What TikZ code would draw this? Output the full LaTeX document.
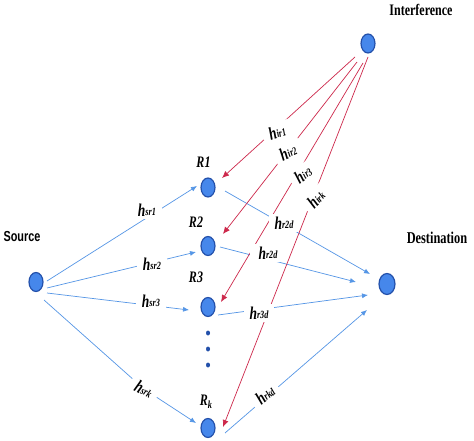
\documentclass[tikz,border=0pt]{standalone}
\usepackage{fontspec}
\setmainfont{Liberation Serif}
\newfontfamily\srcfont{Liberation Sans}
\usetikzlibrary{shapes.geometric,arrows.meta}
\definecolor{lineblue}{RGB}{85,150,230}
\definecolor{linered}{RGB}{205,40,75}
\definecolor{nodefill}{RGB}{70,135,235}
\definecolor{nodedraw}{RGB}{35,80,170}
\newcommand{\sq}[1]{\scalebox{0.75}[1]{#1}}
\newcommand{\chan}[1]{\sq{\fontsize{18}{18}\selectfont\bfseries\itshape h\raisebox{0.5pt}{\fontsize{11}{11}\selectfont #1}}}
\newcommand{\relay}[1]{\sq{\fontsize{16}{16}\selectfont\bfseries\itshape #1}}
\begin{document}
\begin{tikzpicture}[x=1pt,y=-1pt,
  nodecirc/.style={ellipse, draw=nodedraw, fill=nodefill, line width=1.2pt, minimum width=14pt, minimum height=19pt, inner sep=0pt},
  dotc/.style={ellipse, fill=nodedraw, minimum width=4pt, minimum height=5pt, inner sep=0pt},
  blueln/.style={draw=lineblue, line width=0.7pt, -{Latex[length=6pt,width=5pt]}},
  redln/.style={draw=linered, line width=0.7pt, -{Latex[length=7pt,width=6pt]}},
  chlabel/.style={fill=white, inner xsep=6pt, inner ysep=3pt},
  ttl/.style={inner sep=0pt},
]
\fill[white] (0,0) rectangle (474,441);
\useasboundingbox (0,0) rectangle (474,441);

% nodes
\node[nodecirc] (intf) at (368,43.5) {};
\node[nodecirc] (src) at (36,282) {};
\node[nodecirc, minimum width=16pt, minimum height=21pt] (dst) at (387,284) {};
\node[nodecirc] (r1) at (208,187.5) {};
\node[nodecirc] (r2) at (208,246) {};
\node[nodecirc] (r3) at (208,307) {};
\node[nodecirc] (rk) at (208,428) {};
\node[dotc] (d1) at (208,333) {};
\node[dotc] (d2) at (208,349) {};
\node[dotc] (d3) at (208,365) {};

% texts
\node[ttl] (tintf) at (421,10) {\sq{\fontsize{16}{16}\selectfont\bfseries Interference}};
\node[ttl] (tsrc) at (22,237) {\sq{\fontsize{14.5}{14.5}\selectfont\srcfont\bfseries Source}};
\node[ttl] (tdst) at (437,238) {\sq{\fontsize{16.5}{16.5}\selectfont\bfseries Destination}};
\node[ttl] (tr1) at (203.5,162) {\relay{R1}};
\node[ttl] (tr2) at (196,222) {\relay{R2}};
\node[ttl] (tr3) at (196,277) {\relay{R3}};
\node[ttl] (trk) at (206,402) {\relay{R\raisebox{-2.5pt}{\fontsize{11}{11}\selectfont k}}};

% label coordinate for the bent source-Rk link
\coordinate (csrk) at (144,389);

% blue links source -> relays
\draw[blueln] ([shift={(11,-1)}]src.center) -- ([shift={(-11,-1.5)}]r1.center);
\draw[blueln] ([shift={(11,6)}]src.center) -- ([shift={(-12,6)}]r2.center);
\draw[blueln] ([shift={(11,11)}]src.center) -- ([shift={(-19,3)}]r3.center);
\draw[blueln] ([shift={(8,18)}]src.center) -- (csrk) -- ([shift={(-12,-5)}]rk.center);

% blue links relays -> destination
\draw[blueln] ([shift={(17,3.5)}]r1.center) -- ([shift={(-17,-10)}]dst.center);
\draw[blueln] ([shift={(12,1)}]r2.center) -- ([shift={(-31,-2)}]dst.center);
\draw[blueln] ([shift={(10,8)}]r3.center) -- ([shift={(-19,11)}]dst.center);
\draw[blueln] ([shift={(17,5)}]rk.center) -- ([shift={(-20,26)}]dst.center);

% red interference links
\draw[redln] ([shift={(-13,13.5)}]intf.center) -- ([shift={(14,-9.5)}]r1.center);
\draw[redln] ([shift={(-11,18.5)}]intf.center) -- ([shift={(15,-12)}]r2.center);
\draw[redln] ([shift={(-5,19.5)}]intf.center) -- ([shift={(13,-5)}]r3.center);
\draw[redln] ([shift={(0,13.5)}]intf.center) -- ([shift={(15,-1)}]rk.center);

% channel labels
\node[chlabel] (lsr1) at (147,210) {\chan{sr1}};
\node[chlabel] (lsr2) at (152,264) {\chan{sr2}};
\node[chlabel] (lsr3) at (151,301) {\chan{sr3}};
\node[chlabel, rotate=-28] (lsrk) at (csrk) {\chan{srk}};
\node[chlabel, rotate=18] (lir1) at (277,132) {\chan{ir1}};
\node[chlabel, rotate=25] (lir2) at (288,152) {\chan{ir2}};
\node[chlabel, rotate=35] (lir3) at (303,174) {\chan{ir3}};
\node[chlabel, rotate=45] (lirk) at (316,199) {\chan{irk}};
\node[chlabel] (lr1d) at (284,223) {\chan{r2d}};
\node[chlabel, inner xsep=9pt] (lr2d) at (268,253) {\chan{r2d}};
\node[chlabel] (lr3d) at (259,313) {\chan{r3d}};
\node[chlabel, rotate=38] (lrkd) at (265,395) {\chan{rkd}};
\end{tikzpicture}
\end{document}
